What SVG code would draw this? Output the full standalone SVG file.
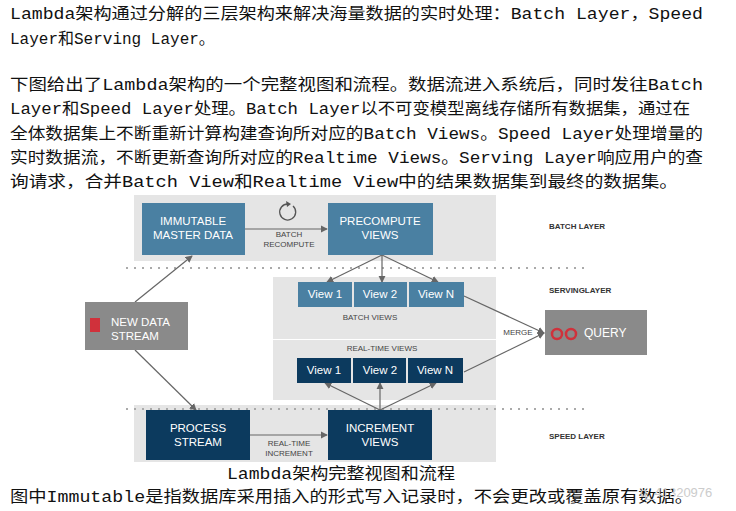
<svg xmlns="http://www.w3.org/2000/svg" width="736" height="511" viewBox="0 0 736 511">
<defs>
<style>
.t{font-family:"Liberation Mono","Noto Sans CJK SC",monospace;font-size:16px;fill:#111}
.bg{fill:#e5e5e5}
.lb{fill:#4a80a2}
.dk{fill:#0c3a5e}
.gr{fill:#8a8a8a}
.w{font-family:"Liberation Sans",Arial,sans-serif;fill:#fff;text-anchor:middle;font-size:11.5px}
.ws{font-family:"Liberation Sans",Arial,sans-serif;fill:#fff;text-anchor:start;font-size:11.5px}
.s{font-family:"Liberation Sans",Arial,sans-serif;fill:#444;text-anchor:middle;font-size:8px}
.r{font-family:"Liberation Sans",Arial,sans-serif;fill:#333;font-size:8px;font-weight:bold}
.c{stroke:#666;stroke-width:1.2;fill:none;marker-end:url(#a)}
.d{stroke:#aaa;stroke-width:2;stroke-dasharray:2 6}
</style>
<marker id="a" viewBox="0 0 8 8" refX="7" refY="4" markerWidth="6" markerHeight="6" orient="auto"><path d="M0,0L8,4L0,8z" fill="#666"/></marker>
</defs>
<rect width="736" height="511" fill="#fff"/>
<g id="text">
<text class="t" x="10" y="19" textLength="693" lengthAdjust="spacingAndGlyphs">Lambda架构通过分解的三层架构来解决海量数据的实时处理：Batch Layer，Speed</text>
<text class="t" x="10" y="44">Layer和Serving Layer。</text>
<text class="t" x="10" y="90" textLength="693" lengthAdjust="spacingAndGlyphs">下图给出了Lambda架构的一个完整视图和流程。数据流进入系统后，同时发往Batch</text>
<text class="t" x="10" y="114" textLength="680" lengthAdjust="spacingAndGlyphs">Layer和Speed Layer处理。Batch Layer以不可变模型离线存储所有数据集，通过在</text>
<text class="t" x="10" y="139" textLength="693" lengthAdjust="spacingAndGlyphs">全体数据集上不断重新计算构建查询所对应的Batch Views。Speed Layer处理增量的</text>
<text class="t" x="10" y="163" textLength="693" lengthAdjust="spacingAndGlyphs">实时数据流，不断更新查询所对应的Realtime Views。Serving Layer响应用户的查</text>
<text class="t" x="10" y="187" textLength="668" lengthAdjust="spacingAndGlyphs">询请求，合并Batch View和Realtime View中的结果数据集到最终的数据集。</text>
<text class="t" x="227" y="479" textLength="228" lengthAdjust="spacingAndGlyphs">Lambda架构完整视图和流程</text>
<text class="t" x="10" y="502" textLength="683" lengthAdjust="spacingAndGlyphs">图中Immutable是指数据库采用插入的形式写入记录时，不会更改或覆盖原有数据。</text>
<text x="640" y="497" font-family="Liberation Sans,sans-serif" font-size="13" fill="#ccc">q_41320976</text>
</g>
<g id="layers">
<rect class="bg" x="134" y="195" width="362" height="66"/>
<rect class="bg" x="273" y="277" width="223" height="62"/>
<rect class="bg" x="273" y="340" width="223" height="60"/>
<rect class="bg" x="134" y="405" width="362" height="57"/>
<line class="d" x1="126" y1="268" x2="588" y2="268"/>
<line class="d" x1="126" y1="409" x2="588" y2="409"/>
<text class="r" x="549" y="229">BATCH LAYER</text>
<text class="r" x="549" y="293">SERVINGLAYER</text>
<text class="r" x="549" y="439">SPEED LAYER</text>
<text class="s" x="370" y="320">BATCH VIEWS</text>
<text class="s" x="382" y="351">REAL-TIME VIEWS</text>
<text class="s" x="289" y="237">BATCH</text><text class="s" x="289" y="247">RECOMPUTE</text>
<text class="s" x="289" y="446">REAL-TIME</text><text class="s" x="289" y="456">INCREMENT</text>
<text class="s" x="518" y="335">MERGE</text>
<path d="M288,204a8,8 0 1 0 5,2" fill="none" stroke="#555" stroke-width="1.3"/>
<path d="M286,201l5,3l-4,3z" fill="#555"/>
</g>
<g id="connectors">
<line class="c" x1="245" y1="229" x2="327" y2="229"/>
<line class="c" x1="250" y1="435" x2="327" y2="435"/>
<line class="c" x1="135" y1="302" x2="192" y2="256"/>
<line class="c" x1="135" y1="350" x2="196" y2="410"/>
<line class="c" x1="382" y1="255" x2="327" y2="282"/>
<line class="c" x1="382" y1="255" x2="382" y2="282"/>
<line class="c" x1="382" y1="255" x2="438" y2="282"/>
<line class="c" x1="380" y1="410" x2="325" y2="383"/>
<line class="c" x1="380" y1="410" x2="380" y2="383"/>
<line class="c" x1="380" y1="410" x2="436" y2="383"/>
<line class="c" x1="464" y1="296" x2="544" y2="333"/>
<line class="c" x1="464" y1="372" x2="544" y2="333"/>
</g>
<g id="immutable"><rect class="lb" x="142" y="203" width="103" height="52"/><text class="w" x="193" y="225">IMMUTABLE</text><text class="w" x="193" y="239">MASTER DATA</text></g>
<g id="precompute"><rect class="lb" x="328" y="203" width="105" height="52"/><text class="w" x="380" y="225">PRECOMPUTE</text><text class="w" x="380" y="239">VIEWS</text></g>
<g id="bv1"><rect class="lb" x="298" y="282" width="54" height="25"/><text class="w" x="325" y="298">View 1</text></g>
<g id="bv2"><rect class="lb" x="354" y="282" width="53" height="25"/><text class="w" x="380" y="298">View 2</text></g>
<g id="bvn"><rect class="lb" x="409" y="282" width="55" height="25"/><text class="w" x="436" y="298">View N</text></g>
<g id="rv1"><rect class="dk" x="297" y="358" width="54" height="25"/><text class="w" x="324" y="374">View 1</text></g>
<g id="rv2"><rect class="dk" x="353" y="358" width="53" height="25"/><text class="w" x="380" y="374">View  2</text></g>
<g id="rvn"><rect class="dk" x="408" y="358" width="55" height="25"/><text class="w" x="435" y="374">View N</text></g>
<g id="newdata"><rect class="gr" x="85" y="302" width="103" height="48"/><rect x="90" y="318" width="10" height="14" fill="#d0313b"/><text class="ws" x="111" y="326">NEW DATA</text><text class="ws" x="111" y="340">STREAM</text></g>
<g id="query"><rect class="gr" x="545" y="310" width="102" height="45"/><circle cx="557" cy="334" r="5" fill="none" stroke="#d0313b" stroke-width="2.5"/><circle cx="571" cy="334" r="5" fill="none" stroke="#d0313b" stroke-width="2.5"/><text class="ws" x="584" y="337" style="font-size:12px">QUERY</text></g>
<g id="process"><rect class="dk" x="146" y="410" width="104" height="50"/><text class="w" x="198" y="432">PROCESS</text><text class="w" x="198" y="446">STREAM</text></g>
<g id="increment"><rect class="dk" x="328" y="410" width="104" height="50"/><text class="w" x="380" y="432">INCREMENT</text><text class="w" x="380" y="446">VIEWS</text></g>
</svg>
